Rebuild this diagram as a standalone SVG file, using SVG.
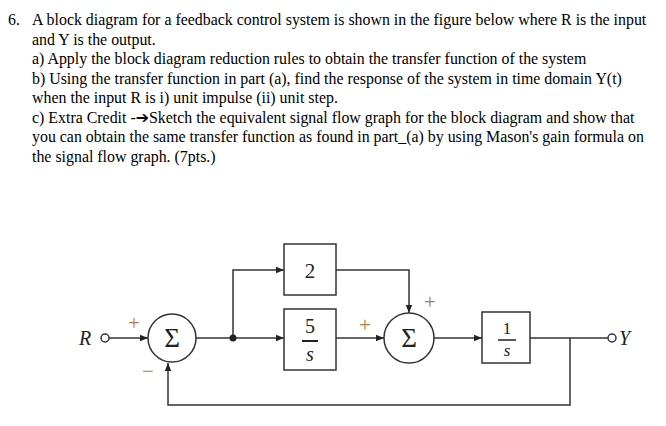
<svg xmlns="http://www.w3.org/2000/svg" width="666" height="426" viewBox="0 0 666 426">
<style>
.t{font-family:"Liberation Serif",serif;font-size:15.9px;fill:#000}
.b{fill:#fff;stroke:#333;stroke-width:1.5}
.l{fill:none;stroke:#333;stroke-width:1.5}
.m{font-family:"Liberation Serif",serif;fill:#222}
.s{font-family:"Liberation Serif",serif;font-size:21px;fill:#b07a4a}
</style>
<defs><marker id="a" viewBox="0 0 10 10" refX="10" refY="5" markerWidth="8" markerHeight="8" markerUnits="userSpaceOnUse" orient="auto"><path d="M0,1L10,5L0,9z" fill="#222"/></marker></defs>
<rect width="666" height="426" fill="#fff"/>
<g id="text">
<text class="t" x="8" y="25">6.</text>
<text class="t" x="32" y="25">A block diagram for a feedback control system is shown in the figure below where R is the input</text>
<text class="t" x="32" y="45">and Y is the output.</text>
<text class="t" x="32" y="64">a) Apply the block diagram reduction rules to obtain the transfer function of the system</text>
<text class="t" x="32" y="84">b) Using the transfer function in part (a), find the response of the system in time domain Y(t)</text>
<text class="t" x="32" y="103">when the input R is i) unit impulse (ii) unit step.</text>
<text class="t" x="32" y="123">c) Extra Credit -<tspan font-family="DejaVu Sans,sans-serif" font-weight="bold">➔</tspan>Sketch the equivalent signal flow graph for the block diagram and show that</text>
<text class="t" x="32" y="142">you can obtain the same transfer function as found in part_(a) by using Mason's gain formula on</text>
<text class="t" x="32" y="162">the signal flow graph. (7pts.)</text>
</g>
<g id="connectors">
<line class="l" x1="109" y1="338" x2="148" y2="338" marker-end="url(#a)"/>
<line class="l" x1="196" y1="338" x2="284" y2="338" marker-end="url(#a)"/>
<polyline class="l" points="233,338 233,270 284,270" marker-end="url(#a)"/>
<polyline class="l" points="336,270 409,270 409,313" marker-end="url(#a)"/>
<line class="l" x1="336" y1="338" x2="384" y2="338" marker-end="url(#a)"/>
<line class="l" x1="434" y1="338" x2="482" y2="338" marker-end="url(#a)"/>
<line class="l" x1="530" y1="338" x2="608" y2="338"/>
<polyline class="l" points="570,338 570,405 168,405 168,363" marker-end="url(#a)"/>
<circle cx="233" cy="338" r="3.5" fill="#222"/>
</g>
<g id="R"><circle class="b" cx="105" cy="338" r="4"/><text class="m" x="79" y="345" font-size="20" font-style="italic">R</text></g>
<g id="sum1"><circle class="b" cx="172" cy="338" r="24"/><text class="m" x="172" y="347" font-size="27" text-anchor="middle">Σ</text>
<text class="s" x="128" y="330">+</text><text class="s" x="142" y="378">−</text></g>
<g id="g2"><rect class="b" x="284" y="244" width="52" height="51"/><text class="m" x="310" y="278" font-size="21" text-anchor="middle">2</text></g>
<g id="g5s"><rect class="b" x="284" y="309" width="52" height="61"/><text class="m" x="310" y="333" font-size="20" text-anchor="middle">5</text><line x1="302" y1="341" x2="318" y2="341" stroke="#222" stroke-width="2"/><text class="m" x="310" y="361" font-size="20" font-style="italic" text-anchor="middle">s</text></g>
<g id="sum2"><circle class="b" cx="409" cy="338" r="25"/><text class="m" x="409" y="347" font-size="27" text-anchor="middle">Σ</text>
<text class="s" x="359" y="332">+</text><text class="s" x="424" y="309">+</text></g>
<g id="g1s"><rect class="b" x="482" y="312" width="48" height="51"/><text class="m" x="507" y="334" font-size="17" text-anchor="middle">1</text><line x1="498" y1="340" x2="516" y2="340" stroke="#222" stroke-width="1.5"/><text class="m" x="507" y="356" font-size="17" font-style="italic" text-anchor="middle">s</text></g>
<g id="Y"><circle class="b" cx="612" cy="338" r="4"/><text class="m" x="619" y="345" font-size="20" font-style="italic">Y</text></g>
</svg>
